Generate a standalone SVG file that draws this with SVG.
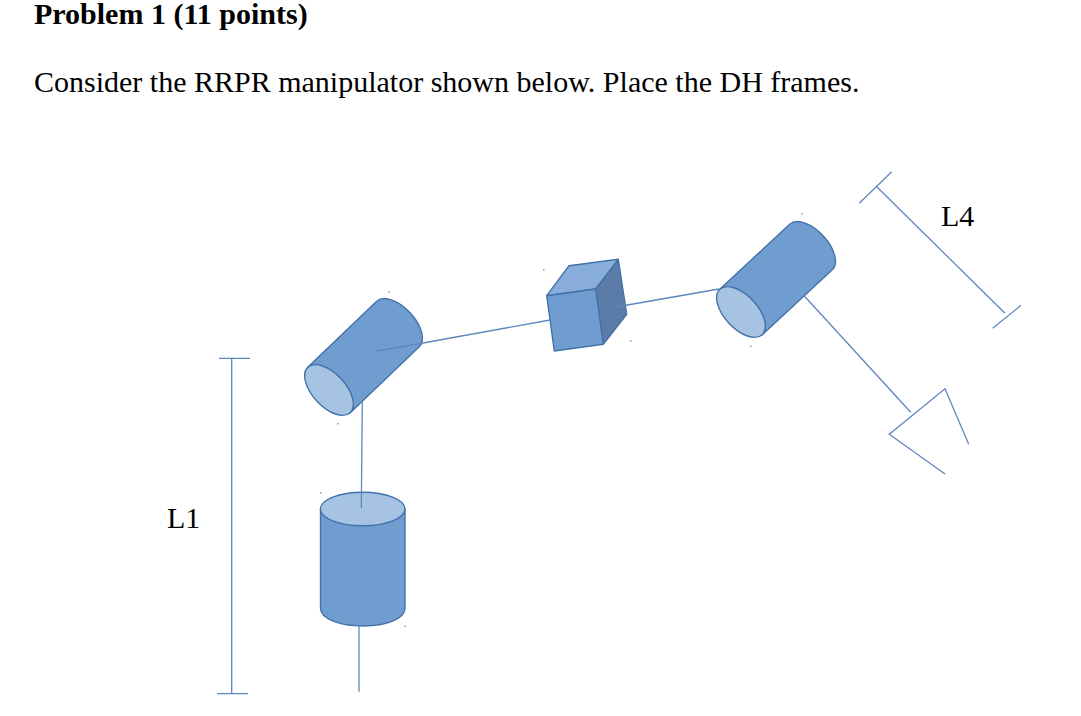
<svg xmlns="http://www.w3.org/2000/svg" width="1081" height="716" viewBox="0 0 1081 716">
<style>
.t{font-family:"Liberation Serif","Times New Roman",serif;fill:#000;font-size:30px}
.l{fill:none;stroke:#5f87bd;stroke-width:1.3}
.s{stroke:#4472a8;stroke-width:1.4;stroke-linejoin:round}
.b{fill:#709dd0}
.c{fill:#a6c3e3}
.d{fill:#5b7ca8}
.u{fill:#8aaedb}
.m{fill:#7fa0cc}
</style>
<rect width="1081" height="716" fill="#fff"/>
<text class="t" x="34" y="24" font-weight="bold">Problem 1 (11 points)</text>
<text class="t" x="34" y="92">Consider the RRPR manipulator shown below. Place the DH frames.</text>
<text class="t" x="167" y="528">L1</text>
<text class="t" x="941" y="226">L4</text>
<g id="base">
<path class="s b" d="M320.500 509V608C320.500 619 340 626 363 626S405 619 405 608V509Z"/>
<ellipse class="s c" cx="362.700" cy="509" rx="42.300" ry="16.700"/>
</g>
<g id="joint2">
<path class="s b" d="M308 367L377 301A31 16.500 47 0 1 419 347L350 413Z"/>
<ellipse class="s c" cx="329" cy="390" rx="31" ry="16.500" transform="rotate(47 329 390)"/>
</g>
<g id="prismatic">
<path class="s u" d="M546.700 295.700L569 265.700L618.300 259.300L595.700 289Z"/>
<path class="s d" d="M595.700 289L618.300 259.300L626.700 314.300L603.300 344.300Z"/>
<path class="s b" d="M546.700 295.700L595.700 289L603.300 344.300L554.300 351Z"/>
</g>
<g id="joint3">
<path class="s b" d="M720 289L790 224A31 16.500 47 0 1 832 270L762 335Z"/>
<ellipse class="s c" cx="741" cy="312" rx="31" ry="16.500" transform="rotate(47 741 312)"/>
</g>
<g id="gripper">
<path class="l" d="M945 474L889.300 434.300L945 388.700L968.700 444.300"/>
</g>
<g id="connectors">
<path class="l" d="M231.700 358.300V693.700M219 358.300H250M217 693.700H248"/>
<path class="l" d="M362.300 401L361.300 508M359 626V691.700"/>
<path class="l" d="M377 351L423 343L550 320M616 307L719 289"/>
<path class="l" d="M804.300 296L910.700 412.300"/>
<path class="l" d="M876 186L1005 313.300M859.300 203.300L891.700 171.700M992.700 328.300L1021 305.300"/>
</g>
<g id="marks">
<rect class="m" x="388.500" y="291.500" width="1.500" height="1.500"/>
<rect class="m" x="337" y="423" width="1.500" height="1.500"/>
<rect class="m" x="543" y="269" width="1.500" height="1.500"/>
<rect class="m" x="630" y="340" width="1.500" height="1.500"/>
<rect class="m" x="801" y="213" width="1.500" height="1.500"/>
<rect class="m" x="750" y="345.500" width="1.500" height="1.500"/>
<rect class="m" x="320" y="492" width="1.500" height="1.500"/>
<rect class="m" x="404.500" y="625.500" width="1.500" height="1.500"/>
</g>
</svg>
